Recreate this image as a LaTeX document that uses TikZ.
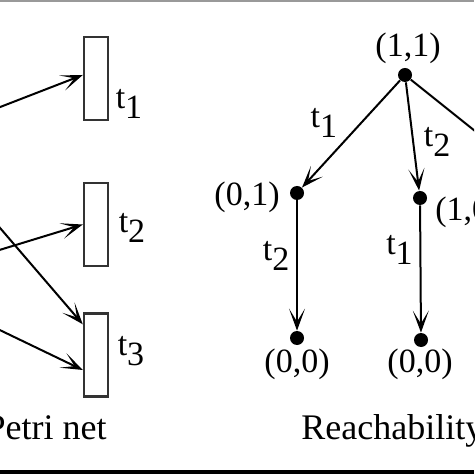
\documentclass[tikz,border=0pt]{standalone}
\usepackage{fontspec}
\setmainfont{Liberation Serif}
\usetikzlibrary{arrows.meta,positioning}
\newcommand{\tsub}[1]{t\raisebox{-5pt}{#1}}

\begin{document}
\begin{tikzpicture}[x=0.5pt,y=-0.5pt,
    every node/.style={font=\fontsize{17}{20}\selectfont},
    trans/.style={draw=black!80, line width=1.2pt, minimum width=12pt, minimum height=41.5pt, inner sep=0pt},
    state/.style={circle, fill=black, minimum size=7pt, inner sep=0pt},
    arc/.style={-{Stealth[length=11pt,width=8pt,inset=6.5pt]}, line width=1pt},
    caption/.style={font=\fontsize{18}{21}\selectfont, inner sep=0pt}]
            \clip (0,0) rectangle (474,474);

            % Frame lines
            \draw[black!40, line width=1.2pt] (0,1) -- (474,1);
            \draw[black, line width=2.5pt] (0,472) -- (474,472);

            % Transitions
            \node[trans] (t1) at (96,78.5) {};
            \node[trans] (t2) at (96,224.5) {};
            \node[trans] (t3) at (96,355) {};
            \node at (129,104) {\tsub{1}};
            \node at (132,228) {\tsub{2}};
            \node at (131,351) {\tsub{3}};

            % Places (outside the crop)
            \coordinate (p1) at (-30,118.7);
            \coordinate (p2) at (-30,259);
            \coordinate (p3) at (-30,193);
            \coordinate (p4) at (-30,315.7);

            % Arcs
            \draw[arc] (p1) -- ([yshift=1.75pt]t1.west);
            \draw[arc] (p2) -- (t2.west);
            \draw[arc] (p3) -- ([yshift=-6pt]t3.north west);
            \draw[arc] (p4) -- ([yshift=-7.5pt]t3.west);

            % Reachability graph
            \node[state] (s11) at (405,75) {};
            \node[state] (s01) at (297,193) {};
            \node[state] (s10) at (420,198) {};
            \node[state] (s00a) at (297,338) {};
            \node[state] (s00b) at (421,340) {};
            \coordinate (sout) at (500,151);

            \node at (408,48) {(1,1)};
            \node at (247,197) {(0,1)};
            \node[anchor=west, inner sep=0pt] at (435,212) {(1,0)};
            \node at (297,364) {(0,0)};
            \node at (420,364) {(0,0)};

            \draw[arc] (s11) -- node[pos=0.4, left=8pt] {\tsub{1}} (s01);
            \draw[arc] (s11) -- node[pos=0.55, right=1.5pt] {\tsub{2}} (s10);
            \draw[line width=1pt] (s11) -- (sout);
            \draw[arc] (s01) -- node[pos=0.43, left=0pt] {\tsub{2}} (s00a);
            \draw[arc] (s10) -- node[pos=0.35, left=0pt] {\tsub{1}} (s00b);

            % Captions
            \node[caption, anchor=base east] at (107,439) {Petri net};
            \node[caption, anchor=base west] at (301,439) {Reachability};
        \end{tikzpicture}
\end{document}
